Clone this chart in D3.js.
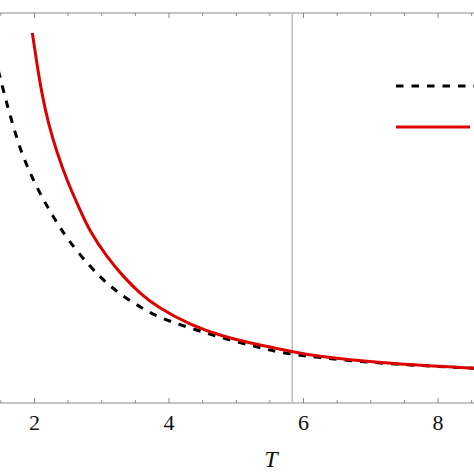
<!DOCTYPE html>
<html>
<head>
<meta charset="utf-8">
<script src="https://cdn.jsdelivr.net/npm/d3@7"></script>
<style>
html,body{margin:0;padding:0;background:#fff;}
svg{display:block;}
</style>
</head>
<body>
<svg id="chart" width="474" height="474"></svg>
<script>
// Data (T, value)
const blackT = [1.47, 1.505, 1.569, 1.692, 1.817, 1.966, 2.138, 2.287, 2.486, 2.833, 3.081, 3.328, 3.576, 3.825, 4.320, 4.815, 5.312, 5.658, 6.149, 7.145, 8.543, 8.70];
const blackV = [0.852, 0.828, 0.785, 0.708, 0.640, 0.580, 0.521, 0.478, 0.422, 0.349, 0.307, 0.273, 0.247, 0.221, 0.192, 0.166, 0.144, 0.129, 0.118, 0.101, 0.089, 0.088];
const redT = [1.975, 2.040, 2.114, 2.213, 2.338, 2.486, 2.684, 2.833, 3.081, 3.328, 3.576, 3.825, 4.320, 4.815, 5.312, 5.807, 6.149, 7.145, 8.543, 8.70];
const redV = [0.949, 0.874, 0.795, 0.717, 0.644, 0.572, 0.495, 0.439, 0.375, 0.324, 0.281, 0.247, 0.200, 0.170, 0.150, 0.133, 0.121, 0.102, 0.089, 0.088];
const majorTicks = [2, 4, 6, 8];
const tickLabels = ["2", "4", "6", "8"];
const minorTicks = [1.5, 2.5, 3, 3.5, 4.5, 5, 5.5, 6.5, 7, 7.5, 8.5];
const vLineT = 5.84;
const xLabel = "T";

const svg = d3.select("#chart");
const W = 474, H = 474;
const yTop = 13, yBot = 403;
const x = d3.scaleLinear().domain([2, 8]).range([34, 437.5]);
const y = d3.scaleLinear().domain([0, 1]).range([yBot, yTop]);
const axisColor = "#8a8a8a";
const serif = "Liberation Serif";

svg.append("defs").append("clipPath").attr("id", "clip")
  .append("rect").attr("x", -10).attr("y", yTop).attr("width", W + 20).attr("height", yBot - yTop);

// bottom axis
const bottom = d3.axisBottom(x).tickValues(majorTicks).tickFormat((d, i) => tickLabels[i]).tickSizeInner(-5).tickSizeOuter(0).tickPadding(11);
const gb = svg.append("g").attr("transform", `translate(0,${yBot})`).call(bottom);
gb.attr("font-family", serif).attr("font-size", 22);
gb.select(".domain").remove();
gb.selectAll(".tick line").attr("stroke", axisColor).attr("stroke-width", 1);
gb.selectAll(".tick text").attr("fill", "#111").attr("font-family", serif).attr("font-size", 22);
const gbm = svg.append("g").attr("transform", `translate(0,${yBot})`)
  .call(d3.axisBottom(x).tickValues(minorTicks).tickFormat("").tickSizeInner(-3).tickSizeOuter(0));
gbm.select(".domain").remove();
gbm.selectAll(".tick line").attr("stroke", axisColor);

// top axis
const gt = svg.append("g").attr("transform", `translate(0,${yTop})`)
  .call(d3.axisTop(x).tickValues(majorTicks).tickFormat("").tickSizeInner(-5).tickSizeOuter(0));
gt.select(".domain").remove();
gt.selectAll(".tick line").attr("stroke", axisColor);
const gtm = svg.append("g").attr("transform", `translate(0,${yTop})`)
  .call(d3.axisTop(x).tickValues(minorTicks).tickFormat("").tickSizeInner(-3).tickSizeOuter(0));
gtm.select(".domain").remove();
gtm.selectAll(".tick line").attr("stroke", axisColor);

// frame lines
svg.append("line").attr("x1", 0).attr("x2", W).attr("y1", yBot).attr("y2", yBot).attr("stroke", axisColor).attr("stroke-width", 1.2);
svg.append("line").attr("x1", 0).attr("x2", W).attr("y1", yTop).attr("y2", yTop).attr("stroke", axisColor).attr("stroke-width", 1.2);

// vertical reference line
svg.append("line").attr("x1", x(vLineT)).attr("x2", x(vLineT)).attr("y1", yTop).attr("y2", yBot)
  .attr("stroke", "#bdbdbd").attr("stroke-width", 1.6);

const line = d3.line().x(d => x(d[0])).y(d => y(d[1])).curve(d3.curveBasis);
const plot = svg.append("g").attr("clip-path", "url(#clip)");
plot.append("path").datum(blackT.map((t, i) => [t, blackV[i]]))
  .attr("d", line).attr("fill", "none").attr("stroke", "#000").attr("stroke-width", 3)
  .attr("stroke-dasharray", "7.5,8");
plot.append("path").datum(redT.map((t, i) => [t, redV[i]]))
  .attr("d", line).attr("fill", "none").attr("stroke", "#dd0000").attr("stroke-width", 3);

// legend
svg.append("line").attr("x1", 396).attr("x2", 474).attr("y1", 86).attr("y2", 86)
  .attr("stroke", "#000").attr("stroke-width", 3).attr("stroke-dasharray", "7.5,8");
svg.append("line").attr("x1", 396).attr("x2", 470).attr("y1", 127).attr("y2", 127)
  .attr("stroke", "#dd0000").attr("stroke-width", 3);

// x label
svg.append("text").attr("x", 271).attr("y", 467).attr("text-anchor", "middle")
  .attr("font-family", serif).attr("font-style", "italic").attr("font-size", 24)
  .attr("fill", "#111").text(xLabel);
</script>
</body>
</html>
